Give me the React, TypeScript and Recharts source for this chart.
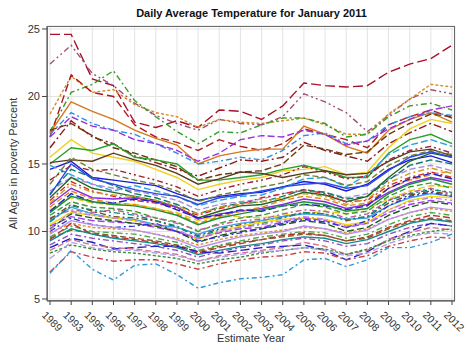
import { LineChart, Line, XAxis, YAxis, CartesianGrid } from 'recharts';

const years = ['1989', '1993', '1995', '1996', '1997', '1998', '1999', '2000', '2001', '2002', '2003', '2004', '2005', '2006', '2007', '2008', '2009', '2010', '2011', '2012'];
const yTicks = [5, 10, 15, 20, 25];

// one array per series
const s01 = [24.6, 24.6, 21.3, 20.8, 18.1, 17.7, 18.2, 17.7, 19.0, 18.9, 18.3, 19.3, 21.0, 20.8, 20.7, 20.8, 21.8, 22.4, 22.8, 23.8];
const s02 = [22.4, 23.8, 21.7, 20.8, 19.5, 18.6, 18.0, 17.5, 18.3, 18.0, 17.9, 18.5, 20.2, 19.6, 18.8, 17.4, 18.6, 19.8, 20.5, 20.2];
const s03 = [18.7, 21.5, 20.3, 20.5, 19.4, 18.8, 18.5, 17.7, 18.3, 18.1, 18.0, 18.2, 18.4, 17.9, 17.2, 17.2, 18.7, 19.8, 20.9, 20.7];
const s04 = [17.4, 20.3, 20.9, 21.9, 19.7, 18.5, 17.4, 16.5, 17.4, 17.3, 17.9, 18.4, 18.4, 18.0, 17.0, 17.2, 18.5, 19.3, 19.5, 19.0];
const s05 = [17.0, 21.6, 20.3, 20.0, 17.9, 17.0, 16.6, 16.0, 16.8, 16.3, 16.0, 16.5, 17.6, 17.2, 16.8, 16.2, 17.9, 18.5, 19.0, 18.4];
const s06 = [17.3, 19.6, 18.9, 18.3, 17.5, 16.9, 16.4, 15.0, 15.6, 15.9, 16.1, 16.1, 17.8, 17.2, 16.3, 15.8, 17.5, 18.3, 18.8, 18.1];
const s07 = [17.2, 18.8, 18.0, 17.5, 17.2, 16.5, 15.8, 15.0, 15.2, 15.5, 15.3, 16.0, 17.1, 17.3, 16.5, 16.7, 17.9, 18.5, 18.8, 18.6];
const s08 = [17.0, 18.5, 17.8, 17.5, 16.8, 16.5, 16.0, 15.2, 15.8, 16.8, 17.1, 17.0, 17.5, 17.2, 16.4, 16.7, 17.6, 18.3, 19.0, 19.3];
const s09 = [16.2, 18.2, 17.0, 16.5, 15.6, 15.1, 14.6, 14.1, 14.7, 15.3, 15.2, 15.5, 16.6, 16.0, 15.6, 15.2, 16.5, 17.3, 18.0, 17.4];
const s10 = [17.5, 18.0, 17.1, 16.2, 15.8, 15.3, 14.8, 13.8, 14.2, 14.4, 14.5, 15.0, 16.4, 16.1, 15.7, 15.9, 17.2, 18.0, 18.7, 18.5];
const s11 = [15.5, 16.8, 15.8, 15.5, 15.2, 14.6, 14.0, 13.1, 13.5, 13.8, 14.0, 14.5, 14.6, 14.8, 14.2, 14.4, 16.2, 17.6, 18.3, 18.0];
const s12 = [15.0, 16.2, 16.0, 16.5, 15.5, 15.3, 15.0, 13.8, 13.8, 14.0, 14.2, 14.6, 14.9, 14.5, 14.0, 14.0, 15.8, 16.8, 17.2, 16.5];
const s13 = [15.1, 15.3, 15.2, 15.8, 15.3, 14.9, 14.3, 13.5, 13.9, 14.4, 14.3, 14.0, 14.3, 14.5, 14.2, 14.3, 15.2, 15.9, 16.1, 15.6];
const s14 = [14.6, 15.2, 14.0, 13.8, 13.6, 13.4, 12.8, 12.3, 12.6, 12.8, 12.9, 13.3, 13.7, 13.5, 13.0, 13.5, 14.6, 15.3, 15.6, 15.1];
const s15 = [14.9, 14.2, 13.5, 13.0, 13.4, 13.0, 12.6, 11.9, 12.3, 12.6, 12.7, 13.2, 13.9, 14.0, 13.3, 14.2, 15.7, 16.4, 16.8, 16.3];
const s16 = [13.0, 14.0, 13.5, 13.2, 13.0, 12.7, 12.3, 11.6, 12.0, 12.2, 12.4, 12.8, 13.0, 12.9, 12.5, 12.8, 13.9, 14.6, 14.9, 14.5];
const s17 = [12.8, 14.6, 14.0, 13.4, 12.8, 12.5, 12.0, 11.3, 11.8, 12.1, 12.2, 12.6, 13.1, 12.9, 12.4, 12.6, 13.8, 14.9, 15.3, 15.0];
const s18 = [12.5, 14.0, 13.2, 12.9, 12.6, 12.3, 11.8, 11.0, 11.5, 11.9, 12.0, 12.4, 12.9, 12.7, 12.2, 12.6, 14.0, 15.2, 15.8, 15.5];
const s19 = [12.3, 13.7, 13.0, 12.6, 12.3, 12.1, 11.7, 11.2, 11.7, 12.0, 12.5, 12.8, 13.1, 12.8, 12.2, 12.3, 13.4, 14.0, 14.4, 14.0];
const s20 = [12.0, 13.2, 12.5, 12.4, 12.5, 12.2, 11.8, 10.9, 11.3, 11.5, 11.7, 12.0, 12.4, 12.2, 11.7, 12.0, 12.9, 13.6, 14.0, 13.7];
const s21 = [11.8, 13.0, 12.4, 12.1, 12.0, 11.7, 11.3, 10.6, 11.1, 11.5, 11.8, 12.3, 12.6, 12.4, 11.9, 12.1, 13.2, 13.8, 14.2, 14.5];
const s22 = [11.6, 12.5, 12.1, 12.0, 12.0, 11.7, 11.4, 10.8, 11.2, 11.1, 11.0, 11.2, 11.3, 11.5, 11.3, 11.7, 12.4, 13.0, 13.4, 13.3];
const s23 = [11.5, 12.8, 12.2, 12.1, 12.4, 12.2, 11.6, 11.0, 11.2, 11.6, 11.5, 11.9, 12.0, 11.9, 11.6, 11.9, 13.2, 13.9, 14.3, 13.9];
const s24 = [11.2, 12.2, 11.8, 11.7, 11.5, 11.0, 10.7, 10.0, 10.6, 11.0, 11.2, 11.6, 12.0, 11.8, 11.3, 11.5, 12.6, 13.3, 13.6, 13.2];
const s25 = [11.0, 11.6, 11.4, 11.6, 11.3, 11.0, 10.6, 10.1, 10.5, 10.8, 10.9, 11.3, 11.6, 11.5, 11.0, 11.3, 12.3, 12.9, 13.2, 12.8];
const s26 = [10.9, 12.0, 11.5, 11.1, 11.0, 10.8, 10.3, 9.7, 10.2, 10.5, 10.8, 11.1, 11.4, 11.3, 10.8, 11.1, 12.1, 12.7, 13.0, 12.7];
const s27 = [10.8, 11.8, 11.3, 11.0, 10.9, 10.5, 10.3, 9.8, 10.3, 10.6, 10.8, 11.1, 11.3, 11.2, 10.9, 11.0, 11.9, 12.5, 12.8, 12.6];
const s28 = [10.7, 11.9, 11.6, 11.4, 11.2, 10.8, 10.4, 9.6, 10.1, 10.3, 10.6, 11.0, 11.4, 11.3, 10.9, 11.1, 12.3, 12.8, 13.1, 12.9];
const s29 = [10.5, 11.4, 11.2, 11.0, 10.8, 10.4, 10.0, 9.4, 10.0, 10.4, 10.7, 10.9, 11.0, 10.9, 10.5, 10.7, 11.6, 12.3, 12.6, 12.5];
const s30 = [10.4, 11.1, 10.8, 10.7, 10.6, 10.3, 10.0, 9.5, 9.9, 10.2, 10.3, 10.7, 11.0, 10.8, 10.3, 10.6, 11.4, 12.0, 12.3, 12.1];
const s31 = [10.2, 11.3, 11.0, 10.8, 10.6, 10.4, 10.0, 9.2, 9.7, 10.0, 10.2, 10.5, 10.8, 10.6, 10.0, 10.3, 11.2, 11.8, 12.2, 12.0];
const s32 = [10.0, 11.0, 10.5, 10.3, 10.4, 10.6, 10.0, 9.3, 9.6, 9.9, 10.2, 10.6, 10.9, 10.7, 10.3, 10.8, 11.9, 12.6, 12.9, 12.6];
const s33 = [9.9, 10.6, 10.3, 10.2, 10.1, 9.8, 9.5, 9.0, 9.4, 9.7, 9.9, 10.1, 10.3, 10.2, 9.9, 10.2, 10.9, 11.4, 11.7, 11.5];
const s34 = [9.8, 10.8, 10.5, 10.3, 10.1, 9.8, 9.4, 8.8, 9.2, 9.6, 9.8, 10.0, 10.4, 10.2, 9.8, 10.1, 10.9, 11.4, 11.8, 11.6];
const s35 = [9.6, 10.4, 10.0, 9.9, 9.8, 9.5, 9.2, 8.6, 9.0, 9.3, 9.6, 9.8, 10.0, 9.9, 9.5, 9.8, 10.5, 11.1, 11.4, 11.2];
const s36 = [9.4, 10.6, 9.8, 9.6, 9.4, 9.2, 8.9, 8.4, 8.8, 9.1, 9.4, 9.7, 9.9, 9.7, 9.3, 9.6, 10.3, 10.8, 11.2, 11.0];
const s37 = [9.5, 10.1, 9.9, 9.7, 9.5, 9.3, 9.0, 8.5, 8.9, 9.2, 9.4, 9.6, 9.8, 9.7, 9.3, 9.5, 10.2, 10.7, 11.0, 10.8];
const s38 = [9.3, 10.2, 9.8, 9.5, 9.3, 9.1, 8.8, 8.3, 8.6, 8.9, 9.1, 9.4, 9.6, 9.5, 9.1, 9.4, 10.0, 10.6, 10.9, 10.7];
const s39 = [9.0, 9.8, 9.5, 9.3, 9.1, 8.9, 8.6, 8.1, 8.5, 8.8, 9.0, 9.3, 9.5, 9.3, 8.9, 9.1, 9.8, 10.3, 10.6, 10.4];
const s40 = [8.8, 9.5, 9.2, 8.7, 8.8, 8.9, 8.9, 8.5, 8.4, 8.6, 8.8, 8.9, 9.0, 8.6, 7.9, 8.5, 9.4, 10.0, 10.6, 10.4];
const s41 = [8.6, 9.4, 9.0, 8.8, 8.7, 8.5, 8.3, 7.8, 8.2, 8.4, 8.6, 8.8, 9.2, 8.9, 8.3, 8.6, 9.4, 9.9, 10.3, 10.1];
const s42 = [8.4, 9.0, 8.7, 8.5, 8.4, 8.2, 8.0, 7.6, 7.9, 8.1, 8.4, 8.6, 8.8, 8.7, 8.3, 8.7, 9.3, 9.7, 10.0, 10.2];
const s43 = [8.0, 9.2, 8.8, 8.6, 8.6, 8.4, 8.2, 7.8, 8.1, 8.3, 8.5, 8.6, 8.8, 8.6, 8.2, 8.4, 9.1, 9.6, 9.9, 9.8];
const s44 = [7.0, 8.5, 8.1, 7.8, 7.9, 7.9, 7.6, 7.2, 7.6, 7.9, 8.1, 8.2, 8.5, 8.4, 7.9, 8.2, 8.9, 9.3, 9.6, 9.5];
const s45 = [6.9, 8.6, 7.2, 6.4, 7.5, 7.6, 6.8, 5.8, 6.2, 6.5, 6.6, 6.8, 7.9, 8.0, 7.4, 7.9, 8.8, 8.8, 9.2, 9.8];
const s46 = [13.5, 15.5, 14.6, 14.2, 13.8, 13.5, 13.0, 12.2, 12.7, 13.0, 13.3, 13.6, 14.2, 14.0, 13.4, 13.7, 14.9, 15.6, 16.0, 15.7];
const s47 = [13.8, 14.9, 14.5, 14.6, 14.2, 13.8, 13.3, 12.6, 13.1, 13.5, 13.8, 14.2, 14.8, 14.4, 13.9, 14.1, 15.3, 16.0, 16.3, 15.8];
const s48 = [12.7, 15.0, 13.9, 13.5, 13.1, 12.8, 12.6, 12.0, 12.5, 12.7, 13.0, 13.3, 13.5, 13.6, 13.2, 13.4, 14.5, 15.5, 15.9, 15.5];
const s49 = [12.1, 13.5, 12.9, 12.7, 12.6, 12.3, 11.9, 11.3, 11.8, 12.0, 12.2, 12.5, 12.8, 12.6, 12.0, 12.4, 13.6, 14.3, 14.7, 14.3];
const s50 = [11.4, 12.6, 12.2, 12.0, 11.9, 11.6, 11.2, 10.5, 11.0, 11.3, 11.6, 11.9, 12.2, 12.0, 11.5, 11.7, 12.8, 13.5, 13.9, 13.5];
const s51 = [10.1, 11.5, 11.2, 11.0, 10.8, 10.5, 10.1, 9.5, 10.0, 10.3, 10.5, 10.8, 11.1, 10.9, 10.4, 10.6, 11.6, 12.2, 12.5, 12.3];

const seriesValues = [s01, s02, s03, s04, s05, s06, s07, s08, s09, s10, s11, s12, s13, s14, s15, s16, s17, s18, s19, s20, s21, s22, s23, s24, s25, s26, s27, s28, s29, s30, s31, s32, s33, s34, s35, s36, s37, s38, s39, s40, s41, s42, s43, s44, s45, s46, s47, s48, s49, s50, s51];

const colors = ['#a8102a', '#a0507a', '#d88a22', '#3a9a2a', '#b01820', '#d4781a', '#2f8fe0', '#9b30e0', '#8b1a1a', '#6b3a10', '#f0d020', '#2ca02c', '#5a3a1a', '#1a1ad9', '#29a3e0', '#a98ae0', '#0f7a6a', '#226622', '#d62828', '#8a2be2', '#e08a1e', '#e8c81a', '#2020c0', '#3a9a3a', '#c06090', '#7a4a1a', '#3aa0e8', '#0a8a7a', '#f5d800', '#a040e8', '#1a5a1a', '#3030d0', '#d8902a', '#b890f0', '#4aaa4a', '#c03030', '#8a5a2a', '#138a8a', '#8a50c0', '#2222cc', '#d0708a', '#3a8a3a', '#b0a0f0', '#c84040', '#2a9ae0', '#708030', '#9a2030', '#2a4ae0', '#c8a020', '#1e8e3e', '#c080e0'];
const dashes = ['10 4', '6 3 2 3 2 3', '3 2', '6 3 2 3', '8 4', '', '6 3 2 3', '7 3', '8 3 2 3', '7 3', '', '', '', '', '7 3', '6 3', '7 3', '', '6 3 2 3', '', '6 3', '7 3', '8 3', '6 3', '6 3 2 3', '6 3 2 3', '', '6 3 2 3', '', '7 3', '7 3', '6 3 2 3', '3 2', '', '6 3 2 3', '7 3', '6 3', '', '6 3 2 3', '9 4', '6 3', '3 2', '6 3', '6 3 2 3', '5 3 2 3', '6 3', '6 3 2 3 2 3', '', '6 3 2 3', '', '6 3 2 3'];

const data = years.map((year, i) => {
  const row: Record<string, string | number> = { year };
  seriesValues.forEach((vals, k) => {
    row['s' + k] = vals[i];
  });
  return row;
});

const font = '"Liberation Sans", Arial, sans-serif';

const XTick = ({ x, y, payload }: any) => (
  <text
    x={0}
    y={0}
    transform={`translate(${x - 3},${y + 3}) rotate(45)`}
    textAnchor="start"
    dominantBaseline="hanging"
    fontSize={10.5}
    fontFamily={font}
    fill="#333"
  >
    {payload.value}
  </text>
);

export default function App() {
  return (
    <div style={{ position: 'absolute', left: 0, top: 0, width: 474, height: 355, background: '#fff', fontFamily: font }}>
      <div style={{ position: 'absolute', left: 0, width: 503, top: 7, textAlign: 'center', fontSize: 11, fontWeight: 'bold', color: '#111' }}>
        Daily Average Temperature for January 2011
      </div>
      <LineChart width={474} height={355} data={data} margin={{ top: 26, right: 19, left: 0, bottom: 0 }}>
        <CartesianGrid stroke="#e3e3e3" strokeWidth={1} />
        <XAxis
          dataKey="year"
          padding={{ left: 3, right: 3 }}
          height={54}
          tick={<XTick />}
          tickSize={4}
          interval={0}
          stroke="#444"
          label={{ value: 'Estimate Year', position: 'insideBottom', offset: 13, fontSize: 11, fill: '#333', fontFamily: font }}
        />
        <YAxis
          type="number"
          domain={[4.85, 25.22]}
          ticks={yTicks}
          allowDataOverflow
          width={47}
          tickSize={5}
          stroke="#444"
          tick={{ fontSize: 11, fill: '#333', fontFamily: font }}
          label={{ value: 'All Ages in poverty Percent', angle: -90, position: 'insideLeft', offset: 13, fontSize: 11, fill: '#333', fontFamily: font, style: { textAnchor: 'middle' } }}
        />
        {seriesValues.map((_, k) => (
          <Line
            key={k}
            type="linear"
            dataKey={'s' + k}
            stroke={colors[k]}
            strokeWidth={1.4}
            strokeDasharray={dashes[k]}
            dot={false}
            isAnimationActive={false}
          />
        ))}
      </LineChart>
      <div style={{ position: 'absolute', left: 47, top: 26, width: 408, height: 275, border: '1.5px solid #6a6a6a', boxSizing: 'border-box', pointerEvents: 'none' }} />
    </div>
  );
}
